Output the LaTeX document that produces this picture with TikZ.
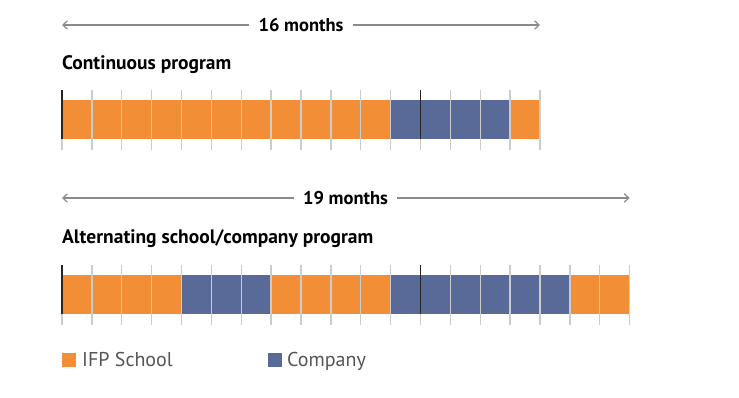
\documentclass[tikz,border=0pt]{standalone}
\usepackage{fontspec}
\setmainfont{PT Sans}
\usetikzlibrary{arrows.meta,positioning}
\definecolor{school}{HTML}{F28E35}
\definecolor{company}{HTML}{5A6A98}
\definecolor{tickgrey}{HTML}{CCCCCC}
\definecolor{arrowgrey}{HTML}{8A8A8A}
\definecolor{keygrey}{HTML}{555555}
\tikzset{>={Straight Barb[width=3mm,length=1.6mm]}}
\def\mw{29.875}

\begin{document}
\begin{tikzpicture}[x=1pt,y=-1pt]
      \tikzstyle{title} = [font=\bfseries\fontsize{19.5}{22}\selectfont, anchor=base west, inner sep=0pt]
      \tikzstyle{span} = [font=\bfseries\fontsize{18.5}{21}\selectfont, inner xsep=9pt, inner ysep=0pt]
      \tikzstyle{keybox} = [minimum size=14pt, inner sep=0pt]
      \tikzstyle{keytext} = [font=\fontsize{20}{23}\selectfont, text=keygrey, anchor=base west, inner sep=0pt]
      \useasboundingbox (0,0) rectangle (739,397);

      % continuous program, 16 months
      \node[span] (len1) at (301,25) {16 months};
      \coordinate (l1) at (62,25);
      \coordinate (r1) at (540,25);
      \draw[->, arrowgrey, line width=1.2pt] (len1.west) -- (l1);
      \draw[->, arrowgrey, line width=1.2pt] (len1.east) -- (r1);
      \node[title] (cont) at (62,69) {Continuous program};

      \foreach \a/\b/\c in {0/11/school, 11/15/company, 15/16/school}
        \fill[\c] ({62+\a*\mw},100) rectangle ({62+\b*\mw},139);
      \foreach \i in {0,...,16}
        \draw[tickgrey, line width=1.3pt] ({62+\i*\mw},90) -- ({62+\i*\mw},150);
      \foreach \i in {0,12}
        \draw[black!85, line width=1.3pt] ({62+\i*\mw},90) -- ({62+\i*\mw},139);

      % alternating program, 19 months
      \node[span] (len2) at (345.5,198) {19 months};
      \coordinate (l2) at (62,198);
      \coordinate (r2) at (629.6,198);
      \draw[->, arrowgrey, line width=1.2pt] (len2.west) -- (l2);
      \draw[->, arrowgrey, line width=1.2pt] (len2.east) -- (r2);
      \node[title] (alt) at (62,243) {Alternating school/company program};

      \foreach \a/\b/\c in {0/4/school, 4/7/company, 7/11/school, 11/17/company, 17/19/school}
        \fill[\c] ({62+\a*\mw},275) rectangle ({62+\b*\mw},314);
      \foreach \i in {0,...,19}
        \draw[tickgrey, line width=1.3pt] ({62+\i*\mw},265) -- ({62+\i*\mw},325);
      \foreach \i in {0,12}
        \draw[black!85, line width=1.3pt] ({62+\i*\mw},265) -- ({62+\i*\mw},314);

      % legend
      \node[keybox, fill=school] (kschool) at (68.5,360) {};
      \node[keytext] (tschool) at (82,366) {IFP School};
      \node[keybox, fill=company] (kcomp) at (274.5,360) {};
      \node[keytext] (tcomp) at (287,366) {Company};

    \end{tikzpicture}
\end{document}
